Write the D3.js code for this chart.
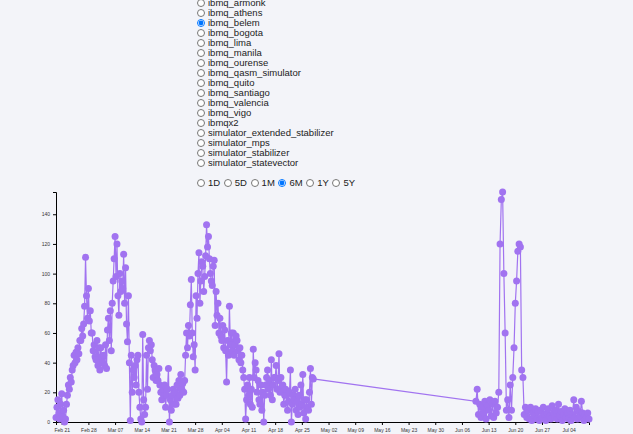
<!DOCTYPE html>
<html>
<head>
<meta charset="utf-8">
<script src="https://cdn.jsdelivr.net/npm/d3@7"></script>
<style>
  body { margin: 0; background: #f3f4f9; font-family: "Liberation Sans", Arial, sans-serif; overflow: hidden; }
  #backends { position: absolute; left: 196px; top: -2px; font-size: 9.5px; color: #222; }
  #backends label, #ranges label { display: block; height: 10px; line-height: 10px; }
  #ranges { position: absolute; left: 196px; top: 177px; font-size: 9.5px; color: #222; }
  #ranges label { display: inline; }
  input[type=radio] { width: 8px; height: 8px; margin: 0 3px 0 1px; vertical-align: -1px; }
  #chart { position: absolute; left: 0; top: 188px; }
  .tick text { font-size: 5px; fill: #333; }
</style>
</head>
<body>
<div id="backends"></div>
<div id="ranges"></div>
<svg id="chart" width="633" height="246"></svg>
<script>
const backends = ['ibmq_armonk', 'ibmq_athens', 'ibmq_belem', 'ibmq_bogota', 'ibmq_lima', 'ibmq_manila',
  'ibmq_ourense', 'ibmq_qasm_simulator', 'ibmq_quito', 'ibmq_santiago', 'ibmq_valencia', 'ibmq_vigo',
  'ibmqx2', 'simulator_extended_stabilizer', 'simulator_mps', 'simulator_stabilizer', 'simulator_statevector'];
const selectedBackend = 'ibmq_belem';
const ranges = ['1D', '5D', '1M', '6M', '1Y', '5Y'];
const selectedRange = '6M';

// pending jobs, first block: every 6h from Feb 19 12:00
const start1 = new Date(2021, 1, 19, 12);
const step1 = 6;
const values1 = [3, 10,
  15, 6, 2, 12, 19, 4, 8, 0, 2, 12, 18, 25, 22, 30, 27, 35, 38, 45, 40, 47,
  42, 50, 46, 55, 55, 63, 58, 66, 78, 111, 85, 70, 90, 68, 75, 60,
  60, 48, 52, 44, 42, 55, 38, 50, 35, 50, 44, 40, 45, 38, 52, 36,
  62, 70, 55, 75, 48, 80, 95, 110, 125, 98, 120, 85, 72, 100, 88, 95,
  90, 113, 80, 104, 66, 54, 85, 40, 1, 45, 20, 35, 30, 38, 25, 42,
  45, 20, 10, 2, 0, 59, 15, 5, 10, 45, 22, 50, 55, 48, 52, 42,
  30, 38, 35, 28, 32, 28, 36, 25, 20, 15, 24, 18, 25, 10, 18, 22,
  36, 0, 15, 8, 18, 22, 12, 20, 12, 25, 16, 28, 18, 32, 22, 26,
  20, 28, 45, 60, 50, 65, 58, 79, 96, 60, 44, 52, 35, 85, 70, 100,
  114, 80, 95, 108, 105, 88, 98, 112, 133, 118, 125, 110, 100, 95, 92, 105,
  109, 65, 88, 72, 80, 60, 70, 58, 55, 65, 50, 62, 48, 27, 55, 45,
  78, 52, 60, 48, 60, 45, 52, 58, 55, 48, 42, 50, 40, 45, 35, 30,
  22, 2, 15, 25, 18, 30, 12, 22, 10, 49, 30, 40, 35, 20, 28, 15,
  12, 25, 8, 20, 0, 18, 25, 30, 35, 22, 28, 18, 42, 15, 25, 30,
  30, 38, 22, 28, 46, 20, 30, 24, 25, 12, 18, 22, 18, 8, 14, 20,
  35, 0, 12, 18, 15, 22, 8, 14, 5, 18, 10, 25, 12, 32, 6, 15,
  2, 15, 10, 8, 20, 36, 12, 30, 29];

// second block: every 8h from Jun 9 16:00
const start2 = new Date(2021, 5, 9, 16);
const step2 = 8;
const values2 = [14,
  22, 5, 12, 3, 10, 6, 14, 2, 11, 8, 15, 4, 12, 3, 14, 6, 10, 20,
  120, 150, 155, 100, 60, 8, 15, 3, 25, 8, 30, 50, 80, 95, 115, 120, 118, 35,
  30, 5, 10, 3, 8, 2, 10, 1, 6, 4, 9, 2, 7, 1, 8, 3, 10, 5, 1, 6, 9,
  4, 2, 11, 6, 3, 8, 2, 12, 4, 7, 1, 5, 9, 3, 6, 2, 8, 1, 5, 15, 3,
  10, 2, 7, 4, 14, 6, 1, 5, 3, 6, 2];

const toPoints = (s, h, vals) => vals.map((v, i) => ({ t: new Date(+s + i * h * 3600e3), v }));
const data = toPoints(start1, step1, values1).concat(toPoints(start2, step2, values2));

// radio lists
d3.select('#backends').selectAll('label').data(backends).join('label')
  .html(d => `<input type="radio" name="backend" ${d === selectedBackend ? 'checked' : ''}>${d}`);
d3.select('#ranges').selectAll('label').data(ranges).join('label')
  .html(d => `<input type="radio" name="range" ${d === selectedRange ? 'checked' : ''}>${d} `);

const svg = d3.select('#chart');
const margin = { left: 56, right: 44, top: 4, bottom: 12 };
const width = 633, height = 246;

const x = d3.scaleTime().domain(d3.extent(data, d => d.t)).range([margin.left, width - margin.right]);
const y = d3.scaleLinear().domain([0, d3.max(data, d => d.v)]).range([height - margin.bottom, margin.top]);

svg.append('g')
  .attr('transform', `translate(0,${height - margin.bottom})`)
  .call(d3.axisBottom(x).ticks(d3.timeWeek.every(1)).tickFormat(d3.timeFormat('%b %d')).tickSize(3));
svg.append('g')
  .attr('transform', `translate(${margin.left},0)`)
  .call(d3.axisLeft(y).tickValues(d3.range(0, 141, 20)).tickSize(3));

svg.append('path')
  .datum(data)
  .attr('fill', 'none')
  .attr('stroke', '#a173f0')
  .attr('stroke-width', 1.2)
  .attr('d', d3.line().x(d => x(d.t)).y(d => y(d.v)));

svg.append('g').selectAll('circle').data(data).join('circle')
  .attr('cx', d => x(d.t))
  .attr('cy', d => y(d.v))
  .attr('r', 3.5)
  .attr('fill', '#a173f0');
</script>
</body>
</html>
